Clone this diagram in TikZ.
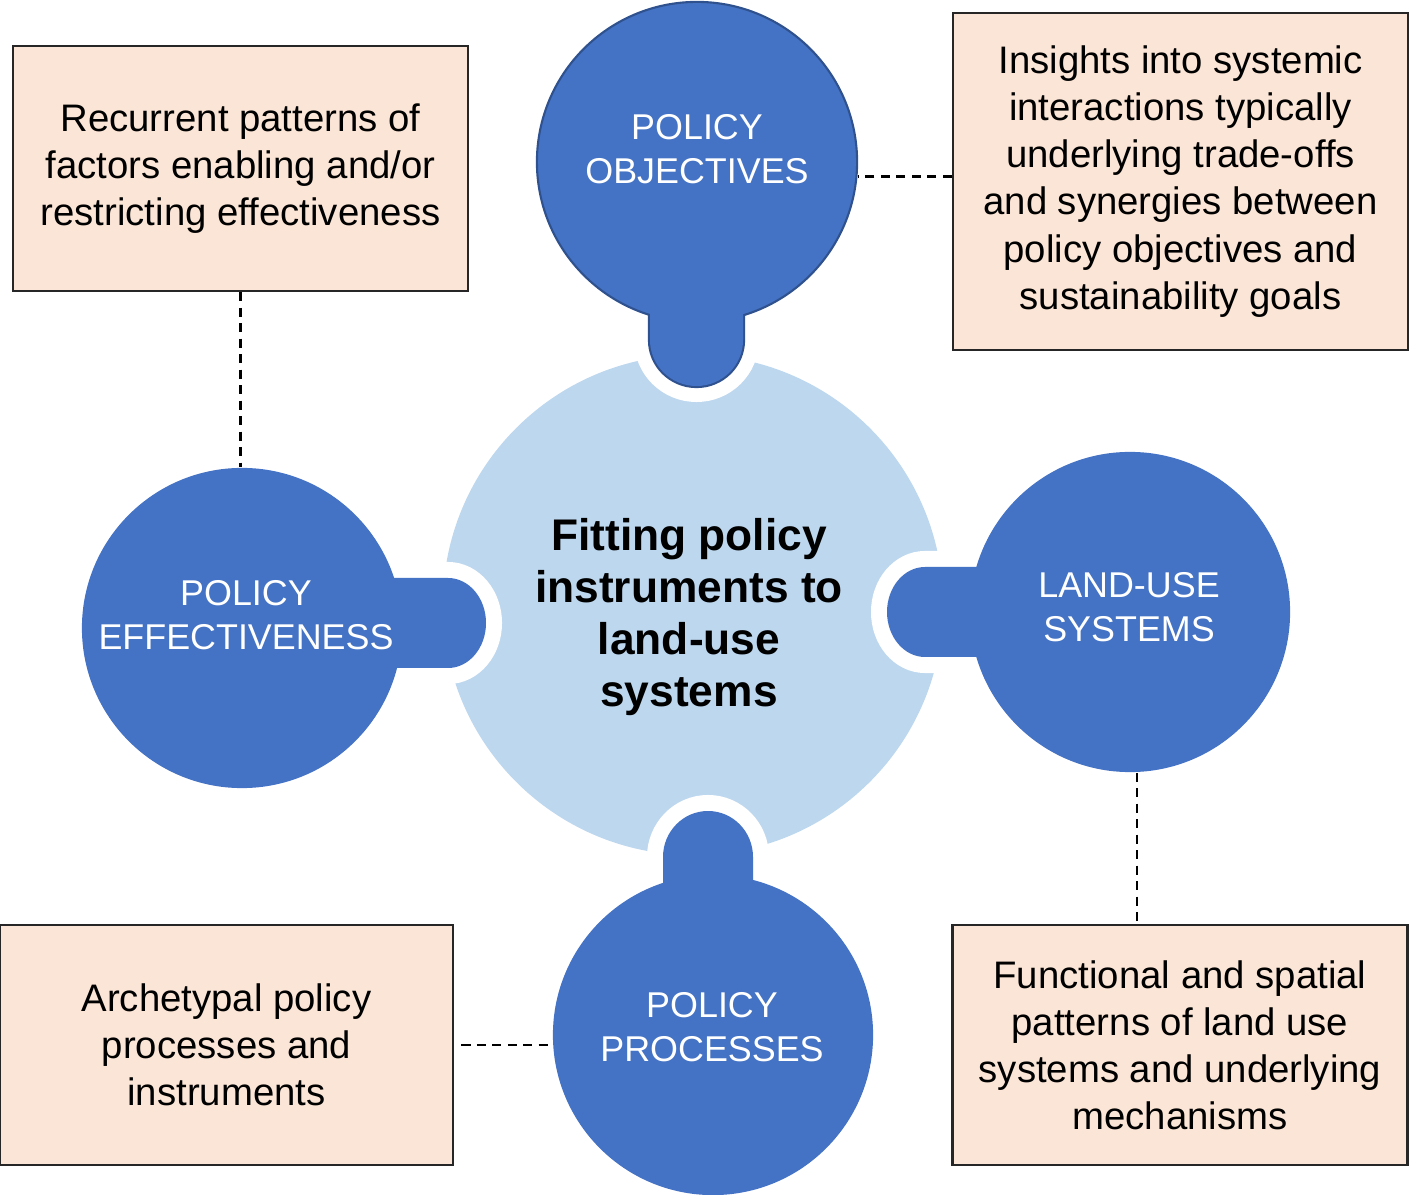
\documentclass[tikz,border=0pt]{standalone}
\usepackage{fontspec}
\setmainfont{Liberation Sans}
\usepackage{xcolor}
\usetikzlibrary{positioning,calc}
\definecolor{discblue}{HTML}{4472C4}
\definecolor{rimblue}{HTML}{2F528F}
\definecolor{coreblue}{HTML}{BDD7EE}
\definecolor{boxpeach}{HTML}{FBE5D6}
\begin{document}
\begin{tikzpicture}[x=0.01cm,y=-0.01cm,
  disc/.style={circle,fill=discblue,minimum size=3.2cm,inner sep=0pt},
  disctext/.style={align=center,text=white,inner sep=0pt,
                   font=\fontsize{10.2}{12.5}\selectfont},
  infobox/.style={draw=black!85,line width=0.7pt,fill=boxpeach,align=center,
                  minimum width=4.55cm,minimum height=2.4cm,inner sep=0pt,
                  font=\fontsize{10.9}{13.4}\selectfont},
  halo/.style={draw=white,line width=0.32cm},
  link/.style={dash pattern=on 2.6pt off 1.8pt,line width=0.75pt}]
\useasboundingbox (0,0) rectangle (1425,1195);
% centre
\node[circle,fill=coreblue,minimum size=5cm,inner sep=0pt] (core) at (693,605) {};
\node[align=center,inner sep=0pt,font=\fontsize{12.6}{14.8}\selectfont\bfseries]
  (coretxt) at (689,617) {Fitting policy\\instruments to\\land-use\\systems};
% white gaps round the knobs
\draw[halo] (650,290) -- (650,340) arc[start angle=180,end angle=0,x radius=46.5,y radius=46] -- (743,290);
\draw[halo] (380,578) -- (448,578) arc[start angle=-90,end angle=90,x radius=38,y radius=45] -- (380,668);
\draw[halo] (985,567) -- (925,567) arc[start angle=270,end angle=90,x radius=38,y radius=45] -- (985,657);
\draw[halo] (663,900) -- (663,857) arc[start angle=180,end angle=360,x radius=45,y radius=46] -- (753,900);
% outer discs with knobs
\filldraw[fill=discblue,draw=rimblue,line width=1.2pt] (650,290) -- (650,340)
  arc[start angle=180,end angle=0,x radius=46.5,y radius=46] -- (743,290) -- cycle;
\node[disc,draw=rimblue,line width=0.6pt] (obj) at (697,162) {};
\fill[discblue] (650,290) -- (650,340) arc[start angle=180,end angle=0,x radius=46.5,y radius=46] -- (743,290) -- cycle;
\fill[discblue] (380,578) -- (448,578) arc[start angle=-90,end angle=90,x radius=38,y radius=45] -- (380,668) -- cycle;
\node[disc] (eff) at (242,628) {};
\fill[discblue] (985,567) -- (925,567) arc[start angle=270,end angle=90,x radius=38,y radius=45] -- (985,657) -- cycle;
\node[disc] (lus) at (1130,612) {};
\fill[discblue] (663,900) -- (663,857) arc[start angle=180,end angle=360,x radius=45,y radius=46] -- (753,900) -- cycle;
\node[disc] (proc) at (713,1035) {};
\node[disctext] (objtxt) at (697,149) {POLICY\\OBJECTIVES};
\node[disctext] (efftxt) at (246,615) {POLICY\\EFFECTIVENESS};
\node[disctext] (lustxt) at (1129,607) {LAND-USE\\SYSTEMS};
\node[disctext] (proctxt) at (712,1027) {POLICY\\PROCESSES};
% boxes
\node[infobox,minimum height=2.45cm] (effbox) at (240.5,168.5)
  {Recurrent patterns of\\factors enabling and/or\\restricting effectiveness};
\node[infobox,minimum height=3.37cm] (objbox) at (1180.5,181.5)
  {Insights into systemic\\interactions typically\\underlying trade-offs\\and synergies between\\policy objectives and\\sustainability goals};
\node[infobox,minimum width=4.53cm] (procbox) at (226.5,1045)
  {Archetypal policy\\processes and\\instruments};
\node[infobox] (lusbox) at (1180,1045)
  {Functional and spatial\\patterns of land use\\systems and underlying\\mechanisms};
% dashed links
\draw[link] (effbox.south) -- (effbox.south |- eff.north);
\draw[link] ($(objbox.west)+(0,-5)$) -- ($(objbox.west -| obj.east)+(0,-5)$);
\draw[link] ($(lus.south)+(7,0)$) -- ($(lus.south |- lusbox.north)+(7,0)$);
\draw[link,shorten <=0.07cm] (procbox.east) -- (procbox.east -| proc.west);
\end{tikzpicture}
\end{document}
